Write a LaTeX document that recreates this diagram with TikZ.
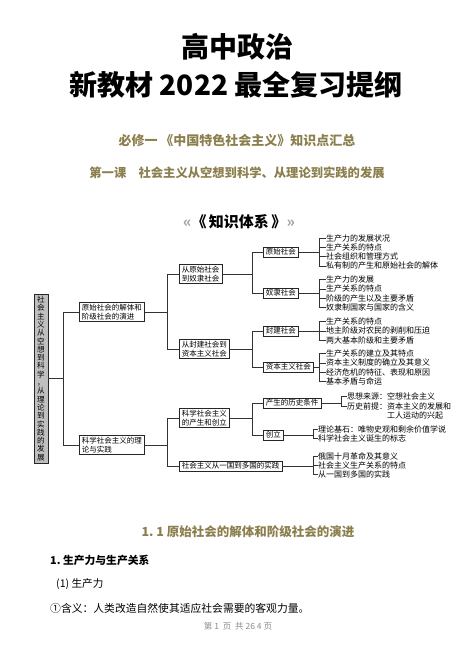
\documentclass[tikz,border=0pt]{standalone}
\usepackage{fontspec}
\setmainfont{Noto Sans CJK SC}
\usetikzlibrary{positioning,calc}
\definecolor{titlegold}{RGB}{140,127,78}

\begin{document}
\begin{tikzpicture}[x=1pt,y=-1pt,
    box/.style={draw=black!85, fill=white, line width=0.6pt, inner xsep=2.5pt, inner ysep=1.5pt, align=left, anchor=west, font=\fontsize{7.5}{9}\selectfont},
    item/.style={anchor=west, inner xsep=0pt, inner ysep=0.5pt, font=\fontsize{8}{9.3}\selectfont},
    conn/.style={draw=black!80, line width=0.6pt},
    head/.style={font=\bfseries\fontsize{28}{30}\selectfont},
    sub/.style={text=titlegold, font=\bfseries\fontsize{13}{15}\selectfont}
]
\fill[white] (0,0) rectangle (474,668);
\useasboundingbox (0,0) rectangle (474,668);

\node[head] (t1) at (237,47) {高中政治};
\node[head] (t2) at (236,85) {新教材 2022 最全复习提纲};
\node[sub] (s1) at (237,141) {必修一\ 《中国特色社会主义》知识点汇总};
\node[sub, font=\bfseries\fontsize{12.3}{14}\selectfont] (s2) at (237,173) {第一课\quad 社会主义从空想到科学、从理论到实践的发展};
\node[font=\bfseries\fontsize{15}{17}\selectfont] (kh) at (239,222) {{\color{black!35}«}《\,知识体系\,》{\color{black!35}»}};

\node[draw=black!85, fill=black!25, line width=0.6pt, minimum width=14pt, minimum height=169pt, inner sep=1pt, align=center, font=\fontsize{7.6}{8.3}\selectfont] (root) at (41,378.5)
  {社\\会\\主\\义\\从\\空\\想\\到\\科\\学\\，\\从\\理\\论\\到\\实\\践\\的\\发\\展};

\node[box] (l1a) at (79,312) {原始社会的解体和\\阶级社会的演进};
\node[box] (l1b) at (79,445) {科学社会主义的理\\论与实践};

\node[box] (l2a) at (179,274) {从原始社会\\到奴隶社会};
\node[box] (l2b) at (179,349) {从封建社会到\\资本主义社会};
\node[box] (l2c) at (179,418) {科学社会主义\\的产生和创立};
\node[box] (l2d) at (179,466) {社会主义从一国到多国的实践};

\node[box] (l3a) at (263,252) {原始社会};
\node[box] (l3b) at (263,293) {奴隶社会};
\node[box] (l3c) at (263,331) {封建社会};
\node[box] (l3d) at (263,367) {资本主义社会};
\node[box] (l3e) at (263,403) {产生的历史条件};
\node[box] (l3f) at (263,435) {创立};

\coordinate (c0) at (63,0);
\coordinate (c1) at (167,0);
\coordinate (c2) at (252,0);

\draw[conn] (root.east) -- (root.east -| c0);
\draw[conn] (l1a.west) -- (l1a.west -| c0) -- (l1b.west -| c0) -- (l1b.west);
\draw[conn] (l1a.east) -- (l1a.east -| c1);
\draw[conn] (l2a.west) -- (l2a.west -| c1) -- (l2b.west -| c1) -- (l2b.west);
\draw[conn] (l1b.east) -- (l1b.east -| c1);
\draw[conn] (l2c.west) -- (l2c.west -| c1) -- (l2d.west -| c1) -- (l2d.west);
\draw[conn] (l2a.east) -- (l2a.east -| c2);
\draw[conn] (l3a.west) -- (l3a.west -| c2) -- (l3b.west -| c2) -- (l3b.west);
\draw[conn] (l2b.east) -- (l2b.east -| c2);
\draw[conn] (l3c.west) -- (l3c.west -| c2) -- (l3d.west -| c2) -- (l3d.west);
\draw[conn] (l2c.east) -- (l2c.east -| c2);
\draw[conn] (l3e.west) -- (l3e.west -| c2) -- (l3f.west -| c2) -- (l3f.west);

\foreach \t [count=\i] in {生产力的发展状况,生产关系的特点,社会组织和管理方式,私有制的产生和原始社会的解体}
  \node[item] (ya\i) at (326,{228.7+9.3*\i}) {\t};
\draw[conn] (ya1.west) -- ++(-7,0) coordinate (ka) -- (ka |- ya4.west) -- (ya4.west);
\foreach \i in {2,3} \draw[conn] (ya\i.west) -- ++(-7,0);
\draw[conn] (l3a.east) -- (l3a.east -| ka);

\foreach \t [count=\i] in {生产力的发展,生产关系的特点,阶级的产生以及主要矛盾,奴隶制国家与国家的含义}
  \node[item] (yb\i) at (326,{270.2+9.3*\i}) {\t};
\draw[conn] (yb1.west) -- ++(-7,0) coordinate (kb) -- (kb |- yb4.west) -- (yb4.west);
\foreach \i in {2,3} \draw[conn] (yb\i.west) -- ++(-7,0);
\draw[conn] (l3b.east) -- (l3b.east -| kb);

\foreach \t [count=\i] in {生产关系的特点,地主阶级对农民的剥削和压迫,两大基本阶级和主要矛盾}
  \node[item] (yc\i) at (326,{312.2+9.3*\i}) {\t};
\draw[conn] (yc1.west) -- ++(-7,0) coordinate (kc) -- (kc |- yc3.west) -- (yc3.west);
\draw[conn] (yc2.west) -- ++(-7,0);
\draw[conn] (l3c.east) -- (l3c.east -| kc);

\foreach \t [count=\i] in {生产关系的建立及其特点,资本主义制度的确立及其意义,经济危机的特征、表现和原因,基本矛盾与命运}
  \node[item] (yd\i) at (326,{344.2+9.3*\i}) {\t};
\draw[conn] (yd1.west) -- ++(-7,0) coordinate (kd) -- (kd |- yd4.west) -- (yd4.west);
\foreach \i in {2,3} \draw[conn] (yd\i.west) -- ++(-7,0);
\draw[conn] (l3d.east) -- (l3d.east -| kd);

\node[item] (ye1) at (347,396) {思想来源：空想社会主义};
\node[item] (ye2) at (347,406) {历史前提：资本主义的发展和};
\node[item] (ye3) at ([xshift=40pt,yshift=-9.3pt]ye2.west) {工人运动的兴起};
\draw[conn] (ye1.west) -- ++(-6,0) coordinate (ke) -- (ke |- ye2.west) -- (ye2.west);
\draw[conn] (l3e.east) -- (l3e.east -| ke);

\node[item] (yf1) at (318,429) {理论基石：唯物史观和剩余价值学说};
\node[item] (yf2) at (318,438) {科学社会主义诞生的标志};
\draw[conn] (yf1.west) -- ++(-5,0) coordinate (kf) -- (kf |- yf2.west) -- (yf2.west);
\draw[conn] (l3f.east) -- (l3f.east -| kf);

\foreach \t [count=\i] in {俄国十月革命及其意义,社会主义生产关系的特点,从一国到多国的实践}
  \node[item] (yg\i) at (318,{446.7+9.3*\i}) {\t};
\draw[conn] (yg1.west) -- ++(-5,0) coordinate (kg) -- (kg |- yg3.west) -- (yg3.west);
\draw[conn] (yg2.west) -- ++(-5,0);
\draw[conn] (l2d.east) -- (l2d.east -| kg);

\node[sub, font=\bfseries\fontsize{12.5}{14}\selectfont] (h1) at (248,532) {1.\ 1 原始社会的解体和阶级社会的演进};
\node[anchor=west, inner sep=0pt, font=\bfseries\fontsize{10.8}{13}\selectfont] (h2) at (50,560) {1.\ 生产力与生产关系};
\node[anchor=west, inner sep=0pt, font=\fontsize{10.6}{13}\selectfont] (h3) at (56,584) {(1)\ 生产力};
\node[anchor=west, inner sep=0pt, font=\fontsize{10.8}{13}\selectfont] (h4) at (50,608) {①含义：人类改造自然使其适应社会需要的客观力量。};
\node[text=black!45, font=\fontsize{8.5}{10}\selectfont] (pg) at (238,626) {第\ 1\ \ 页\ \ 共\ 26 4\ 页};
\end{tikzpicture}
\end{document}
